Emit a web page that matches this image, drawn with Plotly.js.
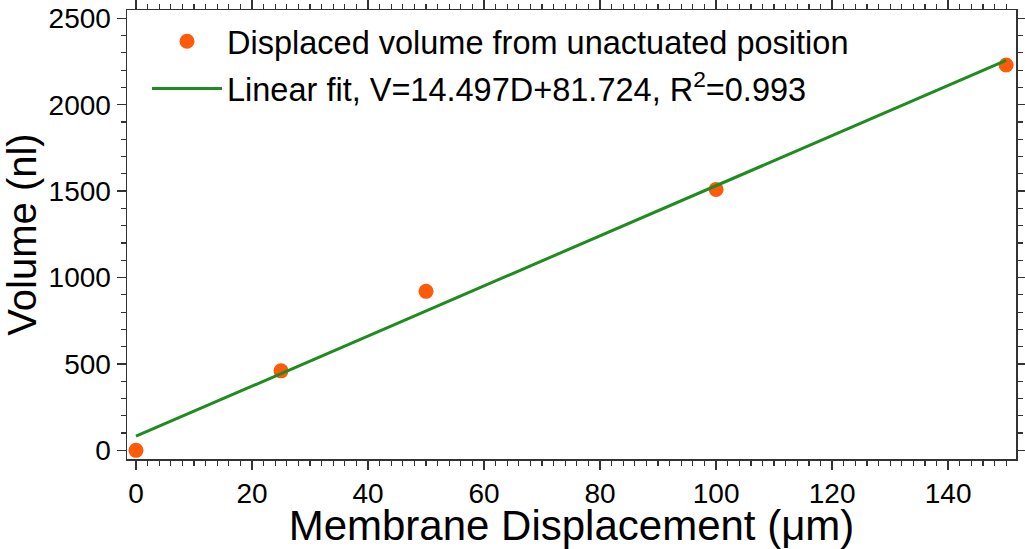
<!DOCTYPE html>
<html>
<head>
<meta charset="utf-8">
<script src="https://cdn.plot.ly/plotly-3.0.1.min.js"></script>
<style>html,body{margin:0;padding:0;background:#fff;}#chart{width:1025px;height:549px;}</style>
</head>
<body>
<div id="chart"></div>
<script>
// Data
const displacement = [0, 25, 50, 100, 150];          // µm
const volume = [0, 460, 920, 1510, 2230];            // nl
const fitSlope = 14.497;
const fitIntercept = 81.724;
const fitRange = [0, 150];
const fitY = fitRange.map(d => fitSlope * d + fitIntercept);
const xTicks = [0, 20, 40, 60, 80, 100, 120, 140];
const yTicks = [0, 500, 1000, 1500, 2000, 2500];

const FONT = "Liberation Sans, Arial, sans-serif";

const traces = [
  {
    x: displacement, y: volume, type: 'scatter', mode: 'markers',
    name: 'Displaced volume from unactuated position',
    legendgroup: 'a',
    marker: {color: '#ff5a0a', size: 15},
    cliponaxis: false
  },
  {
    x: fitRange, y: fitY, type: 'scatter', mode: 'lines',
    name: 'Linear fit, V=14.497D+81.724, R<sup>2</sup>=0.993',
    legendgroup: 'b',
    line: {color: '#1e8c1e', width: 3}
  }
];

const axisCommon = {
  showline: true, linecolor: '#333', linewidth: 1.5,
  mirror: 'ticks', ticks: 'outside', ticklen: 9, tickwidth: 1.5, tickcolor: '#333',
  showgrid: false, zeroline: false,
  tickfont: {family: FONT, size: 28, color: '#000'}
};

const layout = {
  width: 1025, height: 549,
  margin: {l: 127, r: 9, t: 10, b: 90},
  paper_bgcolor: '#fff', plot_bgcolor: '#fff',
  font: {family: FONT, color: '#000'},
  showlegend: true,
  legend: {
    x: 0.0225, y: 0.992, xanchor: 'left', yanchor: 'top',
    bgcolor: 'rgba(0,0,0,0)', borderwidth: 0,
    font: {family: FONT, size: 32.5, color: '#000'},
    traceorder: 'grouped', tracegroupgap: 2, itemwidth: 70
  },
  xaxis: Object.assign({}, axisCommon, {
    range: [-1.55, 151.7],
    tickmode: 'array', tickvals: xTicks, ticktext: xTicks.map(String),
    minor: {dtick: 2, tick0: 0, ticks: 'outside', ticklen: 5, tickwidth: 1.2, tickcolor: '#333'},
    title: {text: 'Membrane Displacement (\u03bcm)', font: {family: FONT, size: 42, color: '#000'}, standoff: 4}
  }),
  yaxis: Object.assign({}, axisCommon, {
    range: [-50, 2548],
    tickmode: 'array', tickvals: yTicks, ticktext: yTicks.map(String),
    minor: {dtick: 100, tick0: 0, ticks: 'outside', ticklen: 5, tickwidth: 1.2, tickcolor: '#333'},
    title: {text: 'Volume (nl)', font: {family: FONT, size: 40, color: '#000'}, standoff: 17}
  })
};

Plotly.newPlot('chart', traces, layout, {displayModeBar: false, staticPlot: true});
</script>
</body>
</html>
